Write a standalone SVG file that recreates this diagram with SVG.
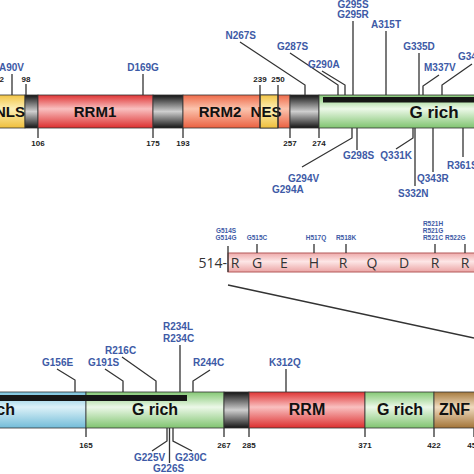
<svg xmlns="http://www.w3.org/2000/svg" width="474" height="474" viewBox="0 0 474 474">
<defs>
<linearGradient id="gRed" x1="0" y1="0" x2="0" y2="1"><stop offset="0" stop-color="#df3434"/><stop offset="0.42" stop-color="#f9c0c0"/><stop offset="1" stop-color="#dc2e2e"/></linearGradient>
<linearGradient id="gSal" x1="0" y1="0" x2="0" y2="1"><stop offset="0" stop-color="#ee6a48"/><stop offset="0.42" stop-color="#fbc4ae"/><stop offset="1" stop-color="#ea6040"/></linearGradient>
<linearGradient id="gYel" x1="0" y1="0" x2="0" y2="1"><stop offset="0" stop-color="#f2c445"/><stop offset="0.42" stop-color="#fdf0b8"/><stop offset="1" stop-color="#efbf3c"/></linearGradient>
<linearGradient id="gGray" x1="0" y1="0" x2="0" y2="1"><stop offset="0" stop-color="#151515"/><stop offset="0.5" stop-color="#cfcfcf"/><stop offset="1" stop-color="#151515"/></linearGradient>
<linearGradient id="gGrn" x1="0" y1="0" x2="0" y2="1"><stop offset="0" stop-color="#84c874"/><stop offset="0.42" stop-color="#ecf8e8"/><stop offset="1" stop-color="#80c470"/></linearGradient>
<linearGradient id="gBlu" x1="0" y1="0" x2="0" y2="1"><stop offset="0" stop-color="#78c2dc"/><stop offset="0.42" stop-color="#dcf1f8"/><stop offset="1" stop-color="#72bcd8"/></linearGradient>
<linearGradient id="gBrn" x1="0" y1="0" x2="0" y2="1"><stop offset="0" stop-color="#a67a3e"/><stop offset="0.42" stop-color="#f0dcc0"/><stop offset="1" stop-color="#a27438"/></linearGradient>
<linearGradient id="gPink" x1="0" y1="0" x2="0" y2="1"><stop offset="0" stop-color="#eeaaaa"/><stop offset="0.45" stop-color="#fde6e6"/><stop offset="1" stop-color="#eba4a4"/></linearGradient>
</defs>
<style>
.seg{stroke:#333;stroke-width:0.8}
.dom{font-family:"Liberation Sans",Arial,sans-serif;font-weight:bold;fill:#111}
.mut{font-family:"Liberation Sans",Arial,sans-serif;font-weight:bold;font-size:10px;fill:#3d5aa6}
.sm{font-family:"Liberation Sans",Arial,sans-serif;font-weight:bold;font-size:6.5px;fill:#3d5aa6}
.num{font-family:"Liberation Sans",Arial,sans-serif;font-weight:bold;font-size:8px;fill:#222}
.seq{font-family:"Open Sans","Liberation Sans",sans-serif;font-size:14px;fill:#333}
.ln{stroke:#333;stroke-width:1.3;fill:none}
</style>

<g id="protein-top">
<rect class="seg" x="-1" y="95" width="26" height="33" fill="url(#gYel)"/>
<rect class="seg" x="25" y="95" width="13" height="33" fill="url(#gGray)"/>
<rect class="seg" x="38" y="95" width="115" height="33" fill="url(#gRed)"/>
<rect class="seg" x="153" y="95" width="30" height="33" fill="url(#gGray)"/>
<rect class="seg" x="183" y="95" width="107" height="33" fill="url(#gSal)"/>
<rect class="seg" x="260" y="95" width="18" height="33" fill="url(#gYel)"/>
<rect class="seg" x="290" y="95" width="29" height="33" fill="url(#gGray)"/>
<rect class="seg" x="319" y="95" width="157" height="33" fill="url(#gGrn)"/>
<rect x="323" y="97" width="153" height="5.5" fill="#151515"/>
<text class="dom" x="25" y="117" font-size="15" text-anchor="end">NLS</text>
<text class="dom" x="95" y="117" font-size="15" text-anchor="middle">RRM1</text>
<text class="dom" x="220" y="117" font-size="15" text-anchor="middle">RRM2</text>
<text class="dom" x="266" y="117" font-size="15" text-anchor="middle">NES</text>
<text class="dom" x="434" y="118" font-size="17" text-anchor="middle">G rich</text>
</g>

<g id="protein-bottom">
<rect class="seg" x="-1" y="392" width="87" height="36" fill="url(#gBlu)"/>
<rect class="seg" x="86" y="392" width="138" height="36" fill="url(#gGrn)"/>
<rect class="seg" x="224" y="392" width="25" height="36" fill="url(#gGray)"/>
<rect class="seg" x="249" y="392" width="116" height="36" fill="url(#gRed)"/>
<rect class="seg" x="365" y="392" width="69" height="36" fill="url(#gGrn)"/>
<rect class="seg" x="434" y="392" width="42" height="36" fill="url(#gBrn)"/>
<rect x="-1" y="395" width="188" height="6" fill="#151515"/>
<text class="dom" x="15" y="415" font-size="16" text-anchor="end">ch</text>
<text class="dom" x="155" y="415" font-size="16" text-anchor="middle">G rich</text>
<text class="dom" x="307" y="415" font-size="16" text-anchor="middle">RRM</text>
<text class="dom" x="400" y="415" font-size="16" text-anchor="middle">G rich</text>
<text class="dom" x="439" y="415" font-size="16">ZNF</text>
</g>

<g id="sequence">
<rect x="228" y="253" width="250" height="19" fill="url(#gPink)" stroke="#b45a5a" stroke-width="1"/>
<text class="seq" x="227" y="268" text-anchor="end">514-</text>
<g class="seq" text-anchor="middle">
<text x="235" y="268">R</text><text x="257" y="268">G</text><text x="284" y="268">E</text>
<text x="314" y="268">H</text><text x="343" y="268">R</text><text x="372" y="268">Q</text>
<text x="404" y="268">D</text><text x="435" y="268">R</text><text x="465" y="268">R</text>
</g>
</g>

<g id="connectors">
<path class="ln" d="M26 84V95M260 85V128M278 85V128"/>
<path class="ln" d="M38 128V138M153 128V138M183 128V138M290 128V138M319 128V138"/>
<path class="ln" d="M12 74V95M143 74V95M240 42L305 85V95M290 53L338 85V95M322 71L345 85V95M353 21V95M386 31V95M419 53V95M439 75L423 86V95M472 64L442 85V95"/>
<path class="ln" d="M352 128V138L302 167M357 128V150M413 128V138L396 149M415 128V186M433 128V172M463 128V157"/>
<path class="ln" d="M228 246V272M257 244V253M314 244V253M346 244V253M435 244V253M465 244V253"/>
<path class="ln" d="M228 285L474 338"/>
<path class="ln" d="M57 369L75 380V392M105 369L123 381V392M122 357L156 381V392M180 345V392M210 370L193 381V392M286 369V392"/>
<path class="ln" d="M167 428V441L152 451M169.5 428V463M173 428V441L192 451"/>
<path class="ln" d="M86 428V437M224 428V437M249 428V437M365 428V437M434 428V437M474 428V437"/>
</g>

<g id="labels-top">
<text class="num" x="4" y="82" text-anchor="end">82</text>
<text class="num" x="26" y="82" text-anchor="middle">98</text>
<text class="num" x="260" y="82" text-anchor="middle">239</text>
<text class="num" x="278" y="82" text-anchor="middle">250</text>
<text class="num" x="38" y="146" text-anchor="middle">106</text>
<text class="num" x="153" y="146" text-anchor="middle">175</text>
<text class="num" x="183" y="146" text-anchor="middle">193</text>
<text class="num" x="290" y="146" text-anchor="middle">257</text>
<text class="num" x="319" y="146" text-anchor="middle">274</text>
<text class="mut" x="24" y="71" text-anchor="end">A90V</text>
<text class="mut" x="143" y="71" text-anchor="middle">D169G</text>
<text class="mut" x="256" y="39" text-anchor="end">N267S</text>
<text class="mut" x="277" y="50">G287S</text>
<text class="mut" x="308" y="68">G290A</text>
<text class="mut" x="353" y="7.5" text-anchor="middle">G295S</text>
<text class="mut" x="353" y="18" text-anchor="middle">G295R</text>
<text class="mut" x="386" y="28" text-anchor="middle">A315T</text>
<text class="mut" x="419" y="50" text-anchor="middle">G335D</text>
<text class="mut" x="424" y="71">M337V</text>
<text class="mut" x="458" y="60">G348C</text>
<text class="mut" x="288" y="182">G294V</text>
<text class="mut" x="272" y="193">G294A</text>
<text class="mut" x="343" y="159">G298S</text>
<text class="mut" x="412" y="159" text-anchor="end">Q331K</text>
<text class="mut" x="398" y="197">S332N</text>
<text class="mut" x="417" y="182">Q343R</text>
<text class="mut" x="447" y="169">R361S</text>
</g>

<g id="labels-sequence">
<text class="sm" x="226" y="233" text-anchor="middle">G514S</text>
<text class="sm" x="226" y="240" text-anchor="middle">G514G</text>
<text class="sm" x="257" y="240" text-anchor="middle">G515C</text>
<text class="sm" x="316" y="240" text-anchor="middle">H517Q</text>
<text class="sm" x="346" y="240" text-anchor="middle">R518K</text>
<text class="sm" x="433" y="226" text-anchor="middle">R521H</text>
<text class="sm" x="433" y="233" text-anchor="middle">R521G</text>
<text class="sm" x="433" y="240" text-anchor="middle">R521C</text>
<text class="sm" x="445" y="240">R522G</text>
</g>

<g id="labels-bottom">
<text class="mut" x="42" y="366">G156E</text>
<text class="mut" x="88" y="366">G191S</text>
<text class="mut" x="105" y="354">R216C</text>
<text class="mut" x="163" y="330">R234L</text>
<text class="mut" x="163" y="342">R234C</text>
<text class="mut" x="193" y="366">R244C</text>
<text class="mut" x="269" y="366">K312Q</text>
<text class="mut" x="134" y="461">G225V</text>
<text class="mut" x="175" y="461">G230C</text>
<text class="mut" x="153" y="472">G226S</text>
<text class="num" x="86" y="448" text-anchor="middle">165</text>
<text class="num" x="224" y="448" text-anchor="middle">267</text>
<text class="num" x="249" y="448" text-anchor="middle">285</text>
<text class="num" x="365" y="448" text-anchor="middle">371</text>
<text class="num" x="434" y="448" text-anchor="middle">422</text>
<text class="num" x="474" y="448" text-anchor="middle">453</text>
</g>
</svg>
